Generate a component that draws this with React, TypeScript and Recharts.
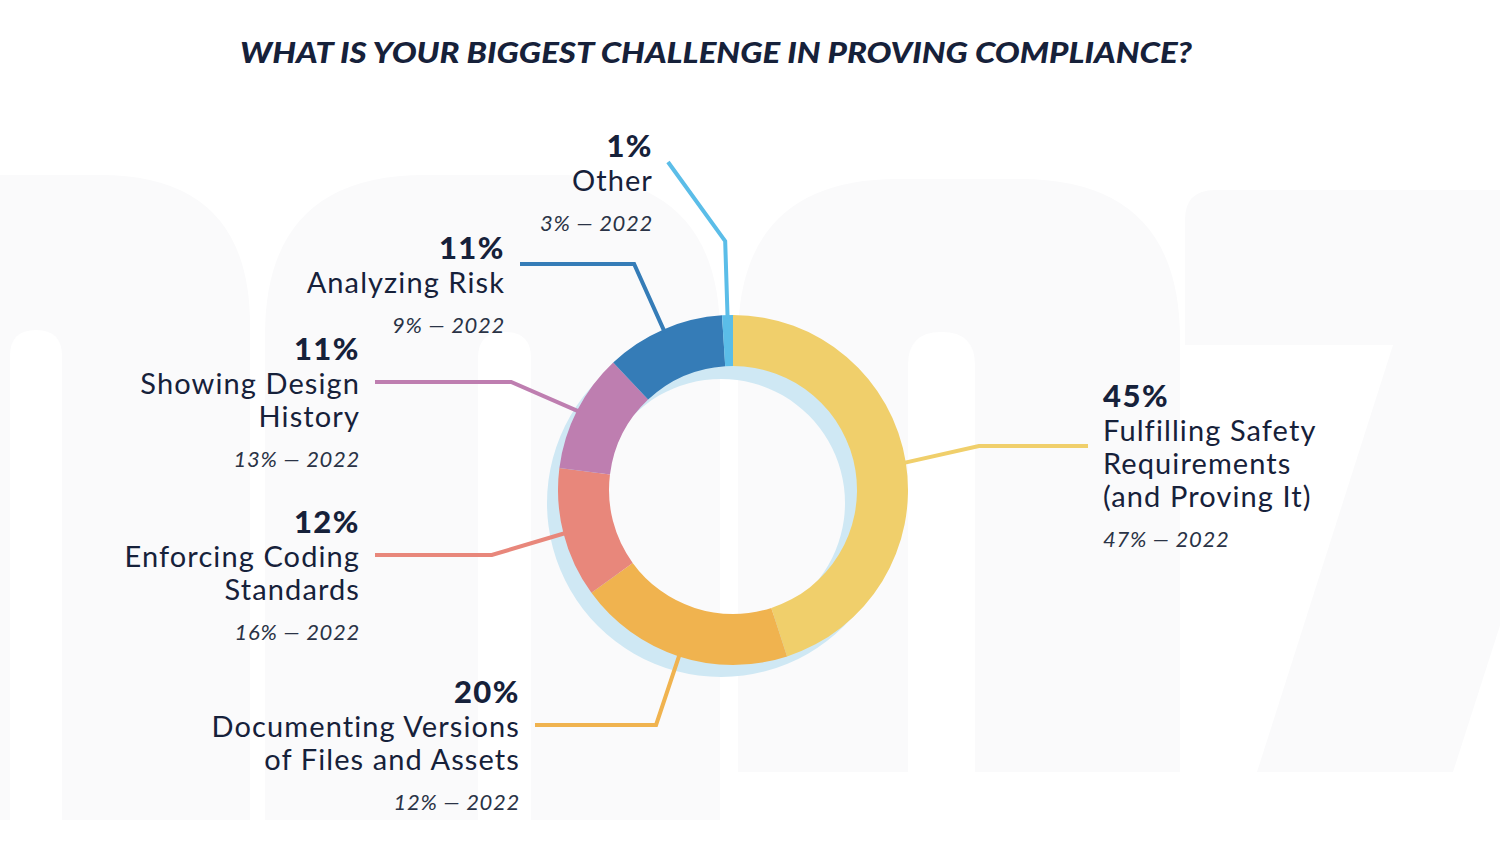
import React from 'react';
import { PieChart, Pie, Cell } from 'recharts';

// survey answers, 2023 share and the 2022 share shown under each label
const CATEGORIES = [
  ['Fulfilling Safety', 'Requirements', '(and Proving It)'],
  ['Documenting Versions', 'of Files and Assets'],
  ['Enforcing Coding', 'Standards'],
  ['Showing Design', 'History'],
  ['Analyzing Risk'],
  ['Other'],
];
const SHARE_2023 = [45, 20, 12, 11, 11, 1];
const SHARE_2022 = [47, 12, 16, 13, 9, 3];
const COLORS = ['#F0CF6B', '#F0B34F', '#E8877B', '#BE7EB0', '#357CB7', '#5BBDE8'];

// where each leader line ends; "flat" lines bend to horizontal, "diag" keeps a slanted tail
const LABEL_END_X = [1088, 535, 375, 375, 520, 668];
const LABEL_END_Y = [446, 725, 555, 382, 264, 162];
const LABEL_BEND = ['flat', 'flat', 'flat', 'flat', 'flat', 'diag'];

const TITLE = 'WHAT IS YOUR BIGGEST CHALLENGE IN PROVING COMPLIANCE?';
const INK = '#16213A';
const FONT = 'Lato, "Open Sans", sans-serif';

const data = CATEGORIES.map((lines, i) => ({
  name: lines.join(' '),
  lines,
  value: SHARE_2023[i],
  prev: SHARE_2022[i],
}));

const RAD = Math.PI / 180;

function renderLabel(props: any) {
  const { cx, cy, midAngle, outerRadius, index } = props;
  const d = data[index];
  const cos = Math.cos(-midAngle * RAD);
  const sin = Math.sin(-midAngle * RAD);
  const sx = cx + (outerRadius - 3) * cos;
  const sy = cy + (outerRadius - 3) * sin;
  const mx = cx + (outerRadius + 74) * cos;
  const ex = LABEL_END_X[index];
  const ey = LABEL_END_Y[index];
  const my = LABEL_BEND[index] === 'flat' ? ey : cy + (outerRadius + 74) * sin;
  const right = ex > cx;
  const tx = right ? ex + 15 : ex - 15;
  const anchor = right ? 'start' : 'end';
  const n = d.lines.length;
  const first = ey + 12 - (n - 2) * 17;
  const last = first + (n - 1) * 33;

  return (
    <g key={`lbl-${index}`}>
      <polyline
        points={`${sx},${sy} ${mx},${my} ${ex},${ey}`}
        fill="none"
        stroke={COLORS[index]}
        strokeWidth={4}
      />
      <text x={tx} y={first - 34} textAnchor={anchor} fill={INK} fontFamily={FONT} fontWeight={900} fontSize={31} letterSpacing={1.5}>
        {d.value}%
      </text>
      {d.lines.map((l, j) => (
        <text key={j} x={tx} y={first + j * 33} textAnchor={anchor} fill={INK} fontFamily={FONT} fontSize={29} letterSpacing={1.1}>
          {l}
        </text>
      ))}
      <text x={tx} y={last + 40} textAnchor={anchor} fill="#2A3346" fontFamily={FONT} fontStyle="italic" fontSize={22} letterSpacing={0.7}>
        {`${d.prev}% \u2014 2022`}
      </text>
    </g>
  );
}

// faint oversized lettering behind the chart
function Backdrop() {
  const g = '#FAFAFB';
  const arch = (x0: number, x1: number, top: number, bottom: number, r: number) =>
    `M${x0},${bottom} L${x0},${top + r} Q${x0},${top} ${x0 + r},${top} L${x1 - r},${top} Q${x1},${top} ${x1},${top + r} L${x1},${bottom} Z`;
  return (
    <svg width={1500} height={846} style={{ position: 'absolute', left: 0, top: 0 }}>
      <rect width={1500} height={846} fill="#FFFFFF" />
      <path d={arch(-200, 250, 175, 820, 150)} fill={g} />
      <path d={arch(265, 720, 175, 820, 160)} fill={g} />
      <path d={arch(738, 1180, 179, 772, 160)} fill={g} />
      <path d={arch(10, 62, 330, 820, 26)} fill="#FFFFFF" />
      <path d={arch(478, 531, 332, 820, 26)} fill="#FFFFFF" />
      <path d={arch(908, 975, 332, 772, 33)} fill="#FFFFFF" />
      <path d="M1185,345 L1185,220 Q1185,190 1215,190 L1500,190 L1500,345 Z" fill={g} />
      <path d="M1393,345 L1590,345 L1453,772 L1257,772 Z" fill={g} />
      <text
        x={240}
        y={63}
        textLength={952}
        lengthAdjust="spacingAndGlyphs"
        fill={INK}
        fontFamily={FONT}
        fontWeight={900}
        fontStyle="italic"
        fontSize={29}
      >
        {TITLE}
      </text>
    </svg>
  );
}

export default function App() {
  return (
    <div style={{ position: 'absolute', left: 0, top: 0, width: 1500, height: 846, overflow: 'hidden', fontFamily: FONT }}>
      <Backdrop />
      <div style={{ position: 'absolute', left: 0, top: 0 }}>
        <PieChart width={1500} height={846} margin={{ top: 0, right: 0, bottom: 0, left: 0 }}>
          {/* offset pale ring behind the donut */}
          <Pie
            data={[{ name: 'shadow', value: 100 }]}
            dataKey="value"
            cx={721}
            cy={503}
            innerRadius={124}
            outerRadius={174}
            fill="#CFE8F4"
            stroke="none"
            isAnimationActive={false}
          />
          <Pie
            data={data}
            dataKey="value"
            cx={733}
            cy={490}
            innerRadius={124}
            outerRadius={175}
            startAngle={90}
            endAngle={-270}
            stroke="none"
            label={renderLabel}
            labelLine={false}
            isAnimationActive={false}
          >
            {data.map((_, i) => (
              <Cell key={i} fill={COLORS[i]} />
            ))}
          </Pie>
        </PieChart>
      </div>
    </div>
  );
}
